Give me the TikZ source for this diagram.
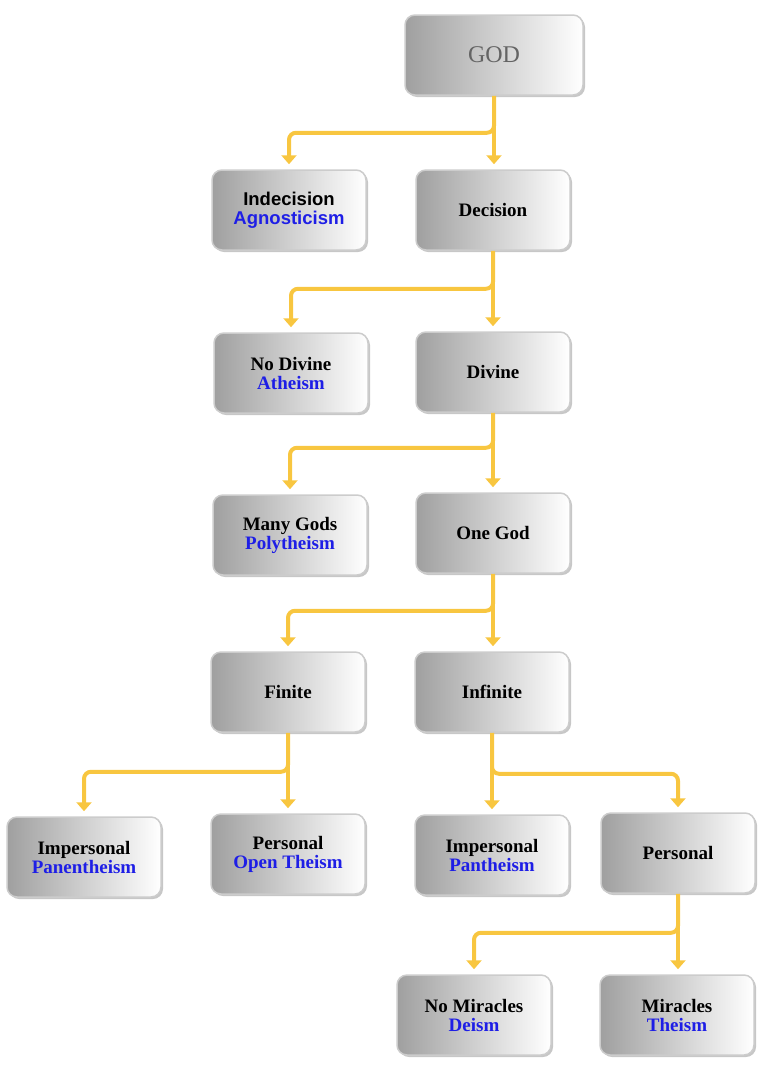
\documentclass[tikz,border=0pt]{standalone}
\usepackage{fontspec}
\setmainfont{Liberation Serif}
\newfontfamily\arialfont{Liberation Sans}
\usetikzlibrary{arrows.meta,shadows}
\definecolor{arrowgold}{RGB}{248,198,64}
\definecolor{tblue}{RGB}{30,30,230}
\definecolor{godgray}{RGB}{100,100,100}
\newcommand\subl[1]{\textcolor{tblue}{#1}}
\tikzset{
  box/.style={rounded corners=10pt, minimum width=154pt, minimum height=80pt,
    left color=gray!75, right color=white, draw=gray!40, line width=1.5pt,
    drop shadow={shadow xshift=2pt, shadow yshift=-2pt, fill=gray!55, opacity=0.8},
    align=center, font=\bfseries\fontsize{19}{19}\selectfont, inner sep=2pt},
  arr/.style={draw=arrowgold, line width=4pt, rounded corners=7pt,
    -{Triangle[width=15pt,length=9pt]}, shorten >=5pt},
}
\begin{document}
\begin{tikzpicture}[x=1pt,y=-1pt]
\useasboundingbox (0,0) rectangle (768,1069);
\node[box, minimum width=178pt, font=\fontsize{24}{26}\selectfont, text=godgray] (god) at (494,55) {GOD};
\node[box, font=\arialfont\bfseries\fontsize{18.5}{19}\selectfont] (indec) at (289,210) {Indecision\\\subl{Agnosticism}};
\node[box] (dec) at (493,210) {Decision};
\node[box] (nodiv) at (291,373) {No Divine\\\subl{Atheism}};
\node[box] (div) at (493,372) {Divine};
\node[box] (many) at (290,535) {Many Gods\\\subl{Polytheism}};
\node[box] (one) at (493,533) {One God};
\node[box] (fin) at (288,692) {Finite};
\node[box] (inf) at (492,692) {Infinite};
\node[box] (panen) at (84,857) {Impersonal\\\subl{Panentheism}};
\node[box] (open) at (288,854) {Personal\\\subl{Open Theism}};
\node[box] (panth) at (492,855) {Impersonal\\\subl{Pantheism}};
\node[box] (pers) at (678,853) {Personal};
\node[box] (nomir) at (474,1015) {No Miracles\\\subl{Deism}};
\node[box] (mir) at (677,1015) {Miracles\\\subl{Theism}};

\draw[arr] (god.south) -- (god.south |- dec.north);
\draw[arr] (god.south) -- ++(0,37) -| (indec.north);
\draw[arr] (dec.south) -- (dec.south |- div.north);
\draw[arr] (dec.south) -- ++(0,38) -| (nodiv.north);
\draw[arr] (div.south) -- (div.south |- one.north);
\draw[arr] (div.south) -- ++(0,35) -| (many.north);
\draw[arr] (one.south) -- (one.south |- inf.north);
\draw[arr] (one.south) -- ++(0,37) -| (fin.north);
\draw[arr] (fin.south) -- (fin.south |- open.north);
\draw[arr] (fin.south) -- ++(0,39) -| (panen.north);
\draw[arr] (inf.south) -- (inf.south |- panth.north);
\draw[arr] (inf.south) -- ++(0,41) -| (pers.north);
\draw[arr] (pers.south) -- (pers.south |- mir.north);
\draw[arr] (pers.south) -- ++(0,39) -| (nomir.north);
\end{tikzpicture}
\end{document}
